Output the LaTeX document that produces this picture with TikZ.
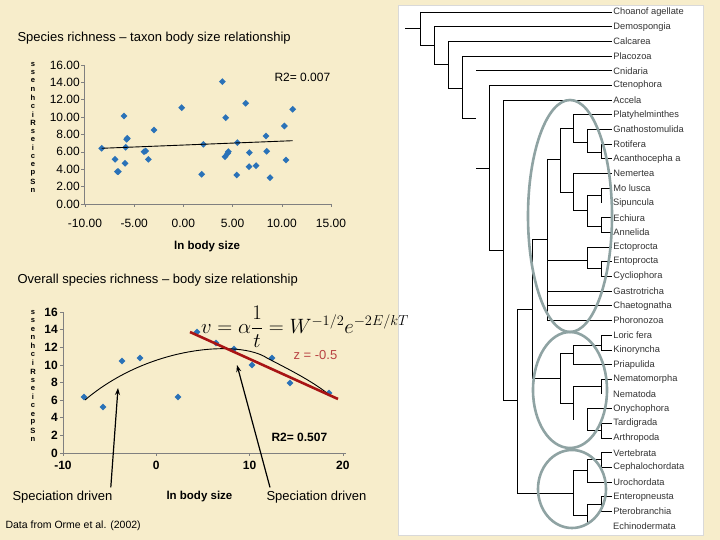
\documentclass[tikz,border=0pt]{standalone}
\usepackage{fontspec}
\setmainfont{Liberation Sans}
\usetikzlibrary{shapes.geometric,arrows.meta}
\definecolor{bg}{HTML}{F7EDCB}
\definecolor{dotc}{HTML}{2A72B8}
\definecolor{ell}{HTML}{8FA3A3}
\definecolor{redl}{HTML}{A81414}
\begin{document}
\begin{tikzpicture}[x=1pt,y=-1pt,
  pt/.style={diamond,fill=dotc,inner sep=0pt,minimum size=7pt},
  tr/.style={line width=0.8pt,black},
  tip/.style={anchor=west,font=\fontsize{9.3}{9.5}\selectfont,text=black!80,inner sep=1pt},
  ttl/.style={anchor=west,font=\fontsize{13}{14}\selectfont},
  ax/.style={gray,line width=0.6pt},
  tick/.style={font=\fontsize{12}{12}\selectfont},
  btick/.style={font=\bfseries\fontsize{12}{12}\selectfont},
  stk/.style={font=\bfseries\fontsize{7.6}{8}\selectfont,inner sep=0pt}]
\useasboundingbox (0,0) rectangle (720,540);
\fill[bg] (0,0) rectangle (720,540);
% tree panel
\fill[white] (398,5) rectangle (703,535);
\draw[black!15] (398,5) rectangle (703,535);
% tips
\foreach \x/\y/\t in {420/12/Choanof agellate,434/26.7/Demospongia,448/41.4/Calcarea,462/56.1/Placozoa,476/70.8/Cnidaria,489/85.5/Ctenophora,503/100.1/Accela,573/114.8/Platyhelminthes,587/129.5/Gnathostomulida,601/144.2/Rotifera,601/158.9/Acanthocepha a,573/173.6/Nemertea,601/188.3/Mo lusca,601/217.7/Echiura,601/232.4/Annelida,587/247/Ectoprocta,601/261.7/Entoprocta,601/276.4/Cycliophora,547/291.1/Gastrotricha,547/305.8/Chaetognatha,547/320.5/Phoronozoa,601/335.2/Loric fera,601/349.9/Kinoryncha,573/364.6/Priapulida,601/379.3/Nematomorpha,587/408.6/Onychophora,601/423.3/Tardigrada,601/438/Arthropoda,601/452.7/Vertebrata,601/467.4/Cephalochordata,587/482.1/Urochordata,601/496.8/Enteropneusta,601/511.5/Pterobranchia}
  {\draw[tr] (\x,\y) -- (612,\y) node[tip] (t\y) {\t};}
\foreach \y/\t in {203/Sipuncula,394/Nematoda,526.2/Echinodermata}
  {\node[tip] (u\y) at (612,\y) {\t};}
% verticals
\foreach \x/\a/\b in {420/12/45,434/26.7/64,448/41.4/88,462/56.1/118,489/85.5/250,503/100.1/400,517/309/493,532/239/378,547/159/320.5,560/128/192,573/114.8/142,587/129.5/152,601/144.2/158.9,573/173.6/210,587/195/226,601/188.3/203,601/217.7/232.4,587/247/268,601/261.7/276.4,560/353/403,573/345/364.6,601/335.2/349.9,573/386/420,601/379.3/394,587/408.6/430,601/423.3/438,573/470/515,587/459/482.1,601/452.7/467.4,587/504/523,601/496.8/511.5}
  {\draw[tr] (\x,\a) -- (\x,\b);}
% internal horizontals
\foreach \a/\b/\y in {405/420/28,420/434/45,434/448/64,448/462/88,462/476/118,476/489/168,489/503/250,503/517/400,517/532/309,517/573/493,532/547/239,547/560/159,560/573/128,573/587/142,587/601/152,560/573/192,573/587/210,587/601/195,587/601/226,547/587/260,587/601/268,532/560/378,560/573/353,573/601/345,560/573/403,573/601/386,587/601/430,573/587/470,587/601/459,573/587/515,587/601/504}
  {\draw[tr] (\a,\y) -- (\b,\y);}
% ellipses
\draw[ell,line width=2.6pt] (570,216) ellipse [x radius=42,y radius=116];
\draw[ell,line width=2.6pt] (570,390) ellipse [x radius=37,y radius=58];
\draw[ell,line width=2.6pt] (572,489) ellipse [x radius=34,y radius=39];

% ---------- chart 1 ----------
\node[ttl] (title1) at (14,38) {Species richness -- taxon body size relationship};
\draw[ax] (84,65) -- (84,204) -- (331,204);
\foreach \v in {0,2,...,16} {\draw[ax] (81,{204-\v*8.69}) -- (84,{204-\v*8.69});
  \node[tick,anchor=east,inner sep=1pt] at (81,{204-\v*8.69}) {\v.00};}
\foreach \v in {-10,-5,0,5,10,15} {\draw[ax] ({85+(\v+10)*9.84},204) -- ({85+(\v+10)*9.84},207);
  \node[tick] at ({85+(\v+10)*9.84},223) {\v.00};}
\node[btick,font=\bfseries\fontsize{11.5}{12}\selectfont] (xl1) at (207,247) {ln body size};
\node[tick,anchor=west] (r1) at (271,77) {R2= 0.007};
\foreach [count=\i] \l in {s,s,e,n,h,c,i,R,s,e,i,c,e,p,S,n}
  \node[stk] at (33,{64+(\i-1)*8.4}) {\l};
\foreach \x/\y in {305/295,345/328,352/365,355/365,372/198,377/292,375/340,382/265,380/268,432/305,437/303,445/328,462/240,545/173,605/373,610/283,667/95,677/203,675/320,683/310,685/305,712/278,710/375,737/160,748/308,747/350,768/347,798/258,800/304,810/383,853/228,858/330,878/178}
  \node[pt] at ({\x/3},{50+\y/3}) {};
\draw[black,line width=0.9pt] (101.7,148.3) -- (292.7,140.7);

% ---------- chart 2 ----------
\node[ttl] (title2) at (14,280) {Overall species richness -- body size relationship};
\draw[ax] (63,312) -- (63,453) -- (346,453);
\foreach \v in {0,2,...,16} {\draw[ax] (60,{453-\v*8.81}) -- (63,{453-\v*8.81});
  \node[btick,anchor=east,inner sep=1pt] at (59,{453-\v*8.81}) {\v};}
\foreach \v in {-10,0,10,20} {\draw[ax] ({63+(\v+10)*9.33},453) -- ({63+(\v+10)*9.33},456);
  \node[btick] at ({63+(\v+10)*9.33},465) {\v};}
\foreach [count=\i] \l in {s,s,e,n,h,c,i,R,s,e,i,c,e,p,S,n}
  \node[stk] at (33,{312+(\i-1)*8.5}) {\l};
\foreach \x/\y in {84/397,103/407,122/361,140/358,178/397,197/332,216/343,234/349,252/365,272/358,290/383,329/393}
  \node[pt] at (\x,\y) {};
\draw[black,line width=0.9pt] (85,400) .. controls (150,345) and (240,340) .. (267,358) .. controls (290,370) and (310,380) .. (327,393);
\draw[redl,line width=2.6pt] (190,332) -- (338,399);
\node[font=\fontsize{20}{21}\selectfont,inner sep=0pt] (eq) at (305,327) {$v=\alpha\displaystyle\frac{1}{t}=W^{-1/2}e^{-2E/kT}$};
\node[text=redl!80,font=\fontsize{13}{14}\selectfont,anchor=west] (z) at (290,355) {z = -0.5};
\node[btick,anchor=west] (r2) at (268,437) {R2= 0.507};
\node[ttl,anchor=west] (sd1) at (9,497) {Speciation driven};
\node[btick,font=\bfseries\fontsize{11.5}{12}\selectfont,anchor=west] (xl2) at (163,497) {ln body size};
\node[ttl,anchor=west] (sd2) at (263,497) {Speciation driven};
\node[anchor=west,font=\fontsize{10.5}{11}\selectfont] (src) at (2,526) {Data from Orme et al. (2002)};
\draw[-{Stealth[length=7pt,width=5pt]},line width=1.2pt] (sd1.north east) ++(-5,0) -- (118,388);
\draw[-{Stealth[length=7pt,width=5pt]},line width=1.2pt] (sd2.north west) ++(7,0) -- (237,365);
\end{tikzpicture}
\end{document}
